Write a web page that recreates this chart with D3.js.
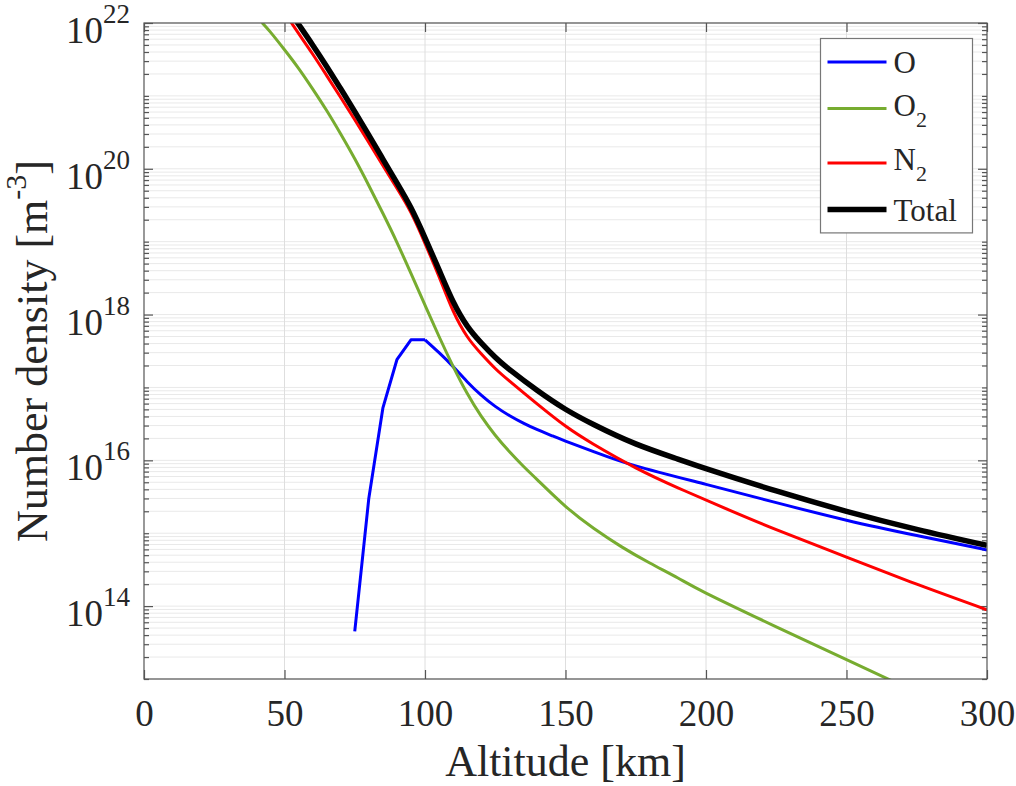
<!DOCTYPE html>
<html>
<head>
<meta charset="utf-8">
<script src="https://cdn.jsdelivr.net/npm/d3@7"></script>
<style>
  body { margin: 0; background: #fff; }
  svg { display: block; }
  text { font-family: "Liberation Serif", "Times New Roman", serif; fill: #262626; }
</style>
</head>
<body>
<div id="chart"></div>
<script>
// altitude [km] and number density [m^-3]
const altO  = [75, 80, 85, 90, 95, 100, 105, 110, 115, 120, 125, 130, 135, 140, 145, 150, 160, 175, 200, 225, 250, 275, 300];
const densO = [4.5e13, 3.0e15, 5.2e16, 2.4e17, 4.5e17, 4.5e17, 3.0e17, 1.93e17, 1.2e17, 7.85e16, 5.5e16, 4.12e16,
               3.24e16, 2.63e16, 2.19e16, 1.84e16, 1.32e16, 8.4e15, 4.68e15, 2.63e15, 1.51e15, 9.3e14, 5.9e14];

const altO2  = [42, 45, 50, 55, 60, 65, 70, 75, 80, 85, 90, 95, 100, 105, 110, 115, 120, 125, 130, 135, 140,
                150, 160, 170, 180, 190, 200, 225, 250, 266];
const densO2 = [1.01e22, 7.5e21, 4.3e21, 2.39e21, 1.25e21, 6.3e20, 3.0e20, 1.37e20, 5.9e19, 2.45e19, 9.8e18, 3.67e18,
                1.35e18, 5.0e17, 1.95e17, 8.3e16, 4.03e16, 2.21e16, 1.32e16, 8.3e15, 5.4e15,
                2.34e15, 1.17e15, 6.5e14, 3.9e14, 2.43e14, 1.51e14, 5.2e13, 1.84e13, 9.5e12];

const altN2  = [52, 55, 60, 65, 70, 75, 80, 85, 90, 95, 100, 105, 110, 115, 120, 125, 130, 140, 150, 160, 175, 190, 205, 225, 250, 275, 300];
const densN2 = [1.07e22, 7.2e21, 3.76e21, 1.9e21, 9.5e20, 4.7e20, 2.3e20, 1.11e20, 5.4e19, 2.5e19, 9.5e18, 3.3e18, 1.12e18,
                5.0e17, 2.9e17, 1.82e17, 1.23e17, 5.9e16, 2.95e16, 1.66e16, 7.9e15, 4.2e15, 2.35e15, 1.12e15, 4.7e14, 2.0e14, 8.9e13];

const altTot  = [54, 55, 60, 65, 70, 75, 80, 85, 90, 95, 100, 105, 110, 115, 120, 125, 130, 140, 150, 160, 175, 190, 200, 225, 250, 275, 300];
const densTot = [1.1e22, 9.6e21, 5.0e21, 2.53e21, 1.25e21, 6.07e20, 2.89e20, 1.36e20, 6.4e19, 2.91e19, 1.13e19, 4.1e18, 1.51e18,
                 7.0e17, 4.09e17, 2.59e17, 1.77e17, 9.07e16, 5.02e16, 3.1e16, 1.68e16, 1.04e16, 7.68e15, 3.8e15, 2.0e15, 1.13e15, 6.8e14];

const xTicks = [0, 50, 100, 150, 200, 250, 300];
const yExponents = [14, 16, 18, 20, 22];

// legend names (main part, subscript)
const names = [["O", ""], ["O", "2"], ["N", "2"], ["Total", ""]];
const colors = ["#0000ff", "#77ac30", "#ff0000", "#000000"];

// frame of the axes
let pLeft = 144, pRight = 987, pTop = 23, pBottom = 679;

let svg = d3.select("#chart")
    .append("svg")
    .attr("width", 1016)
    .attr("height", 786);

svg.append("rect").attr("width", 1016).attr("height", 786).attr("fill", "#fff");

let x = d3.scaleLinear().domain([0, 300]).range([pLeft, pRight]);
let y = d3.scaleLog().domain([1e13, 1e22]).range([pBottom, pTop]);

// minor values for the log axis
let yMajor = yExponents.map(e => Math.pow(10, e));
let yAll = [];
for (let k = 13; k < 22; k++) {
    for (let m = 1; m < 10; m++) yAll.push(m * Math.pow(10, k));
}
yAll.push(1e22);
let yMinor = yAll.filter(v => !yMajor.some(M => Math.abs(v / M - 1) < 1e-9));

// grid
svg.append("g")
    .selectAll("line")
    .data(yAll)
    .join("line")
    .attr("x1", pLeft).attr("x2", pRight)
    .attr("y1", d => y(d)).attr("y2", d => y(d))
    .attr("stroke", "#e9e9e9")
    .attr("stroke-width", 1);

svg.append("g")
    .selectAll("line")
    .data(xTicks.slice(1, -1))
    .join("line")
    .attr("x1", d => x(d)).attr("x2", d => x(d))
    .attr("y1", pTop).attr("y2", pBottom)
    .attr("stroke", "#dedede")
    .attr("stroke-width", 1);

// axes (ticks point inward, box on)
function styleAxis(g) {
    g.select(".domain").remove();
    g.selectAll(".tick line").attr("stroke", "#555").attr("stroke-width", 1.2);
}

let xAxis = svg.append("g")
    .attr("transform", "translate(0," + pBottom + ")")
    .call(d3.axisBottom(x).tickValues(xTicks).tickSize(-9).tickSizeOuter(0).tickPadding(21))
    .call(styleAxis);
xAxis.selectAll("text")
    .attr("font-size", 37)
    .attr("fill", "#262626")
    .style("font-family", '"Liberation Serif", "Times New Roman", serif');

svg.append("g")
    .attr("transform", "translate(0," + pTop + ")")
    .call(d3.axisTop(x).tickValues(xTicks).tickSize(-9).tickSizeOuter(0).tickFormat(""))
    .call(styleAxis);

svg.append("g")
    .attr("transform", "translate(" + pLeft + ",0)")
    .call(d3.axisLeft(y).tickValues(yMajor).tickSize(-9).tickSizeOuter(0).tickFormat(""))
    .call(styleAxis);
svg.append("g")
    .attr("transform", "translate(" + pLeft + ",0)")
    .call(d3.axisLeft(y).tickValues(yMinor).tickSize(-5).tickSizeOuter(0).tickFormat(""))
    .call(styleAxis);
svg.append("g")
    .attr("transform", "translate(" + pRight + ",0)")
    .call(d3.axisRight(y).tickValues(yMajor).tickSize(-9).tickSizeOuter(0).tickFormat(""))
    .call(styleAxis);
svg.append("g")
    .attr("transform", "translate(" + pRight + ",0)")
    .call(d3.axisRight(y).tickValues(yMinor).tickSize(-5).tickSizeOuter(0).tickFormat(""))
    .call(styleAxis);

// y tick labels 10^n
svg.append("g")
    .selectAll("text")
    .data(yExponents)
    .join("text")
    .attr("x", 130)
    .attr("y", d => y(Math.pow(10, d)) + 20)
    .attr("text-anchor", "end")
    .each(function (d) {
        let t = d3.select(this);
        t.append("tspan").attr("font-size", 37).text("10");
        t.append("tspan").attr("font-size", 27).attr("dy", -20).text(d);
    });

// curves
svg.append("clipPath").attr("id", "plotclip")
    .append("rect")
    .attr("x", pLeft).attr("y", pTop)
    .attr("width", pRight - pLeft).attr("height", pBottom - pTop);

let widths = [3, 3, 3, 5.5];
let oPeak = altO.indexOf(100);

// O is drawn straight up to its peak, smooth after it
let pieces = [
    {pts: d3.zip(altO, densO).slice(0, oPeak + 1), curve: d3.curveLinear, i: 0},
    {pts: d3.zip(altO, densO).slice(oPeak), curve: d3.curveNatural, i: 0},
    {pts: d3.zip(altO2, densO2), curve: d3.curveNatural, i: 1},
    {pts: d3.zip(altN2, densN2), curve: d3.curveNatural, i: 2},
    {pts: d3.zip(altTot, densTot), curve: d3.curveNatural, i: 3}
];

let plot = svg.append("g").attr("clip-path", "url(#plotclip)");
pieces.forEach(p => {
    let line = d3.line()
        .x(d => x(d[0]))
        .y(d => y(d[1]))
        .curve(p.curve);
    plot.append("path")
        .datum(p.pts)
        .attr("d", line)
        .attr("fill", "none")
        .attr("stroke", colors[p.i])
        .attr("stroke-width", widths[p.i])
        .attr("stroke-linejoin", "round");
});

// frame
svg.append("rect")
    .attr("x", pLeft).attr("y", pTop)
    .attr("width", pRight - pLeft).attr("height", pBottom - pTop)
    .attr("fill", "none")
    .attr("stroke", "#555")
    .attr("stroke-width", 1.2);

// axis titles
svg.append("text")
    .attr("x", (pLeft + pRight) / 2)
    .attr("y", 776)
    .attr("text-anchor", "middle")
    .attr("font-size", 44)
    .text("Altitude [km]");

let yTitle = svg.append("text")
    .attr("transform", "translate(47," + (pTop + pBottom) / 2 + ") rotate(-90)")
    .attr("text-anchor", "middle")
    .attr("font-size", 44);
yTitle.append("tspan").text("Number density [m");
yTitle.append("tspan").attr("font-size", 30).attr("dy", -21).text("-3");
yTitle.append("tspan").attr("dy", 21).text("]");

// legend
let legX = 820.5, legY = 38.5, legW = 152;
let rowH = names.map(n => n[1] ? 54.4 : 38.8);
let legH = d3.sum(rowH) + 8;
let leg = svg.append("g");
leg.append("rect")
    .attr("x", legX).attr("y", legY)
    .attr("width", legW).attr("height", legH)
    .attr("fill", "#fff")
    .attr("stroke", "#777")
    .attr("stroke-width", 1.2);

let cy = legY + 4;
names.forEach((n, i) => {
    let yc = cy + rowH[i] / 2;
    cy += rowH[i];
    leg.append("line")
        .attr("x1", legX + 7).attr("x2", legX + 66)
        .attr("y1", yc).attr("y2", yc)
        .attr("stroke", colors[i])
        .attr("stroke-width", widths[i]);
    let t = leg.append("text")
        .attr("x", legX + 73)
        .attr("y", yc + (n[1] ? 7 : 11))
        .attr("font-size", 31);
    t.append("tspan").text(n[0]);
    if (n[1]) t.append("tspan").attr("font-size", 22).attr("dy", 11).text(n[1]);
});
</script>
</body>
</html>
